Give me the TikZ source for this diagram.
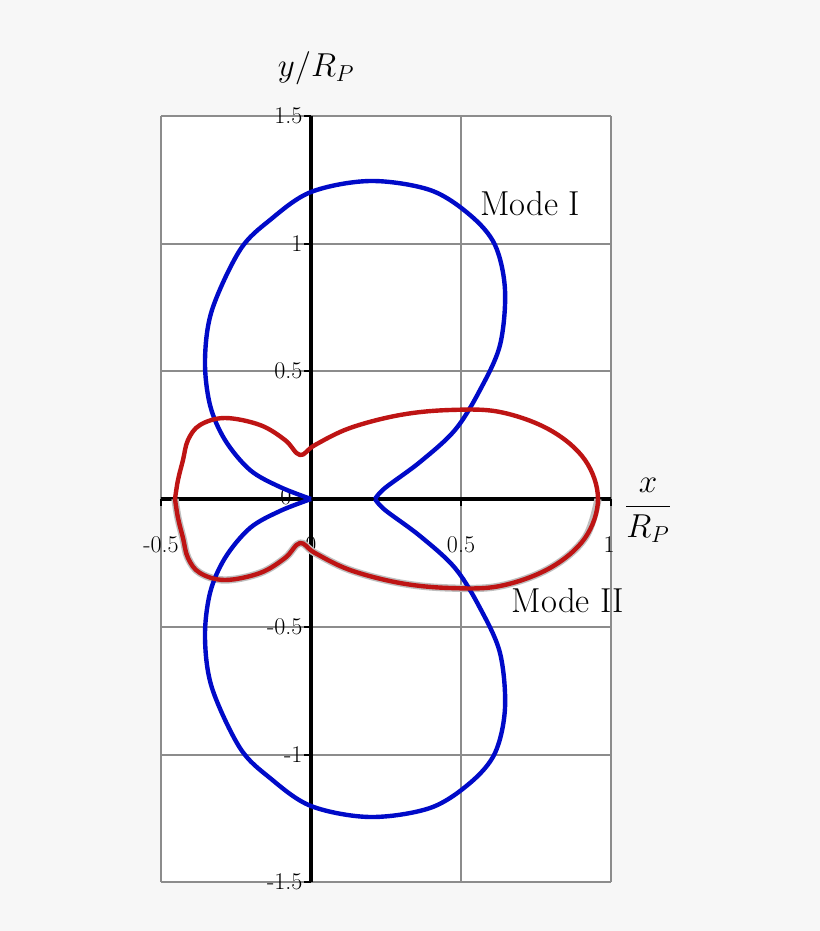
\documentclass[tikz,border=0pt]{standalone}
\begin{document}
\begin{tikzpicture}[x=0.75pt,y=-0.75pt,
  grid/.style={draw=gray!90,line width=0.9pt},
  axis/.style={draw=black,line width=2.6pt},
  tick/.style={font=\fontsize{18}{20}\selectfont},
  blue curve/.style={draw={rgb,255:red,0;green,10;blue,200},line width=3.3pt,line join=round},
  red curve/.style={draw={rgb,255:red,190;green,20;blue,20},line width=3.3pt,line join=round}]
\fill[black!3] (0,0) rectangle (820,931);
\useasboundingbox (0,0) rectangle (820,931);
\fill[white] (161,116) rectangle (611,882);
\foreach \xx in {161,461,611} \draw[grid] (\xx,116) -- (\xx,882);
\foreach \yy in {116,244,371,627,755,882} \draw[grid] (161,\yy) -- (611,\yy);
\draw[axis] (161,499) -- (611,499);
\draw[axis] (311,116) -- (311,882);
\foreach \yy in {116,244,371,627,755,882} \draw[axis,line width=1.8pt] (304,\yy) -- (311,\yy);
\foreach \xx in {161,461,611} \draw[axis,line width=1.8pt] (\xx,499) -- (\xx,506);
\node[tick,anchor=east] (t1) at (307,116) {1.5};
\node[tick,anchor=east] (t2) at (307,244) {1};
\node[tick,anchor=east] (t3) at (307,371) {0.5};
\node[tick,anchor=east] (t4) at (296,497) {0};
\node[tick,anchor=east] (t5) at (307,627) {-0.5};
\node[tick,anchor=east] (t6) at (307,755) {-1};
\node[tick,anchor=east] (t7) at (307,882) {-1.5};
\node[tick] (x1) at (161,545) {-0.5};
\node[tick] (x2) at (311,545) {0};
\node[tick] (x3) at (461,545) {0.5};
\node[tick] (x4) at (609,545) {1};
% Mode II shadow
\draw[line width=5.5pt,draw=gray!50,line join=round] plot[smooth,tension=0.6] coordinates {(175,499) (178,518) (183,538) (188,558) (200,573) (225,580) (260,573) (285,558) (300,543) (315,553) (350,570) (400,583) (450,588) (500,586) (550,568) (585,538) (598,499)};
% Mode I
\draw[blue curve] plot[smooth,tension=0.55] coordinates {(311,499) (280,487) (250,470) (225,440) (210,405) (205,360) (212,310) (240,250) (270,220) (311,192) (370,181) (430,190) (470,215) (495,245) (505,290) (500,345) (480,390) (455,430) (420,462) (385,488) (375,499)};
\draw[blue curve] plot[smooth,tension=0.55] coordinates {(311,499) (280,511) (250,528) (225,558) (210,593) (205,638) (212,688) (240,748) (270,778) (311,806) (370,817) (430,808) (470,783) (495,753) (505,708) (500,653) (480,608) (455,568) (420,536) (385,510) (375,499)};
% Mode II
\draw[red curve] plot[smooth,tension=0.6] coordinates {(175,499) (178,480) (183,460) (188,440) (200,425) (225,418) (260,425) (285,440) (300,455) (315,445) (350,428) (400,415) (450,410) (500,412) (550,430) (585,460) (598,499) (585,538) (550,568) (500,586) (450,588) (400,583) (350,570) (315,553) (300,543) (285,558) (260,573) (225,580) (200,573) (188,558) (183,538) (178,518) (175,499)};
\node[font=\fontsize{26}{28}\selectfont] (m1) at (530,204) {Mode I};
\node[font=\fontsize{26}{28}\selectfont] (m2) at (568,601) {Mode II};
\node[font=\fontsize{32}{34}\selectfont] (yl) at (316,68) {$y/R_{\scriptscriptstyle P}$};
\node[font=\fontsize{32}{34}\selectfont] (xl) at (648,510) {$\displaystyle\frac{x}{R_{\scriptscriptstyle P}}$};
\end{tikzpicture}
\end{document}
